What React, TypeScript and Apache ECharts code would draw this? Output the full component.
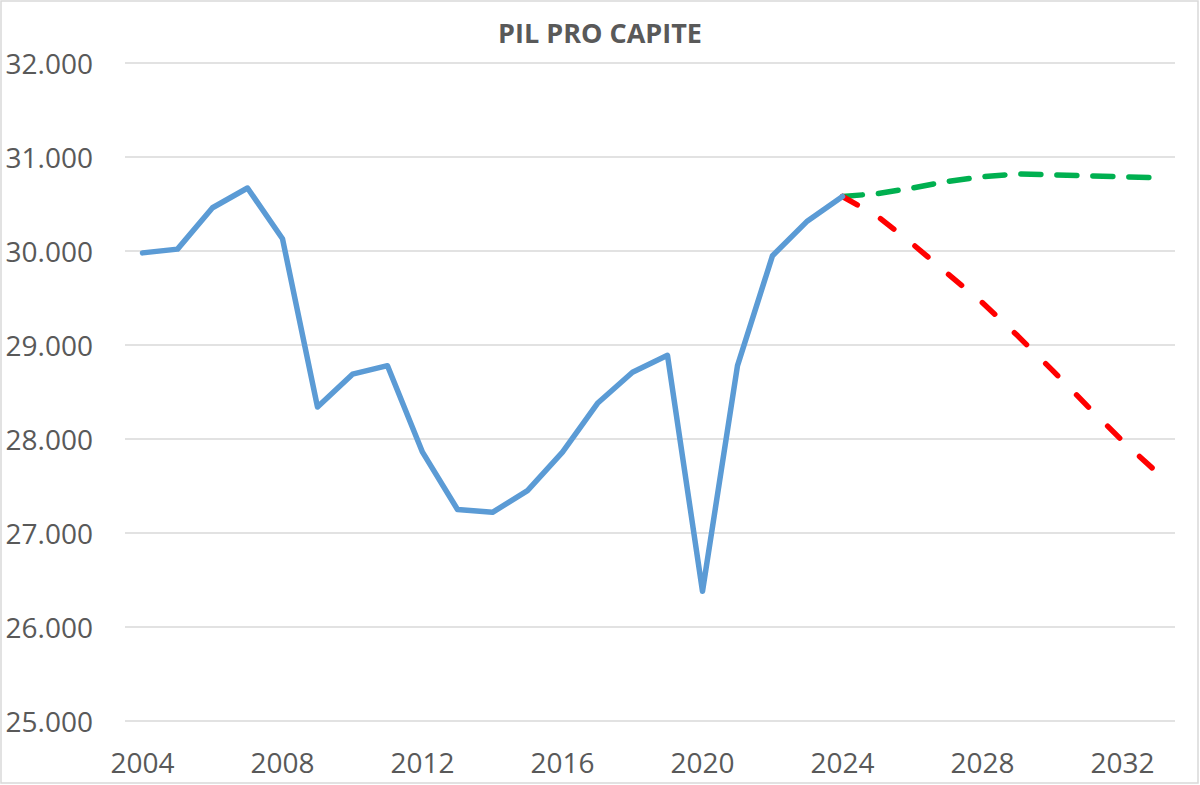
import { useEffect, useRef } from "react";
import * as echarts from "echarts";

const years = Array.from({ length: 30 }, (_, i) => String(2004 + i));

// PIL pro capite, euro
const actual = [
  29980, 30020, 30460, 30670, 30130, 28340, 28690, 28780, 27860, 27250,
  27220, 27450, 27860, 28380, 28710, 28890, 26380, 28780, 29950, 30320,
  30580,
];
const optimistic = [
  30580, 30610, 30670, 30740, 30790, 30820, 30810, 30800, 30790, 30780,
];
const pessimistic = [
  30580, 30370, 30075, 29760, 29450, 29100, 28730, 28350, 27980, 27640,
];

const textColor = "#595959";
const gridColor = "#d9d9d9";
const fontFamily = "'Open Sans', 'Noto Sans', sans-serif";

// projections start from the last actual year
const projectionStart = actual.length - 1;
const padProjection = (values: number[]) =>
  years.map((_, i) =>
    i < projectionStart ? null : values[i - projectionStart] ?? null,
  );

function formatThousands(value: number): string {
  const thousands = Math.floor(value / 1000);
  const rest = String(Math.round(value % 1000)).padStart(3, "0");
  return `${thousands}.${rest}`;
}

export default function App() {
  const reference = useRef<HTMLDivElement>(null);

  useEffect(() => {
    document.body.style.margin = "0";
    const element = reference.current;
    if (element === null) return;
    const chart = echarts.init(element, undefined, { renderer: "svg" });
    chart.setOption({
      animation: false,
      backgroundColor: "#ffffff",
      title: {
        text: "PIL PRO CAPITE",
        left: "center",
        top: 14,
        textStyle: {
          color: textColor,
          fontFamily,
          fontSize: 27,
          fontWeight: "bold",
        },
      },
      graphic: [
        {
          type: "rect",
          shape: { x: 1, y: 1, width: 1197, height: 782 },
          style: { fill: "none", stroke: gridColor, lineWidth: 1.5 },
          silent: true,
        },
      ],
      grid: { left: 125, right: 25, top: 63, bottom: 64 },
      xAxis: {
        type: "category",
        data: years,
        boundaryGap: true,
        axisLine: { show: false },
        axisTick: { show: false },
        axisLabel: {
          interval: 3,
          margin: 27,
          color: textColor,
          fontFamily,
          fontSize: 28,
        },
      },
      yAxis: {
        type: "value",
        min: 25000,
        max: 32000,
        interval: 1000,
        axisLine: { show: false },
        axisTick: { show: false },
        axisLabel: {
          margin: 32,
          color: textColor,
          fontFamily,
          fontSize: 28,
          formatter: formatThousands,
        },
        splitLine: { lineStyle: { color: gridColor, width: 1.5 } },
      },
      series: [
        {
          name: "Storico",
          type: "line",
          data: years.map((_, i) => actual[i] ?? null),
          showSymbol: false,
          connectNulls: false,
          lineStyle: { color: "#5b9bd5", width: 5.5, cap: "round", join: "round" },
          z: 3,
        },
        {
          name: "Scenario positivo",
          type: "line",
          data: padProjection(optimistic),
          showSymbol: false,
          lineStyle: {
            color: "#00b050",
            width: 5.5,
            type: [20, 16],
            cap: "round",
          },
          z: 2,
        },
        {
          name: "Scenario negativo",
          type: "line",
          data: padProjection(pessimistic),
          showSymbol: false,
          lineStyle: {
            color: "#ff0000",
            width: 5.5,
            type: [17, 27],
            cap: "round",
          },
          z: 2,
        },
      ],
    });
    return () => chart.dispose();
  }, []);

  return <div ref={reference} style={{ width: 1200, height: 785 }} />;
}
